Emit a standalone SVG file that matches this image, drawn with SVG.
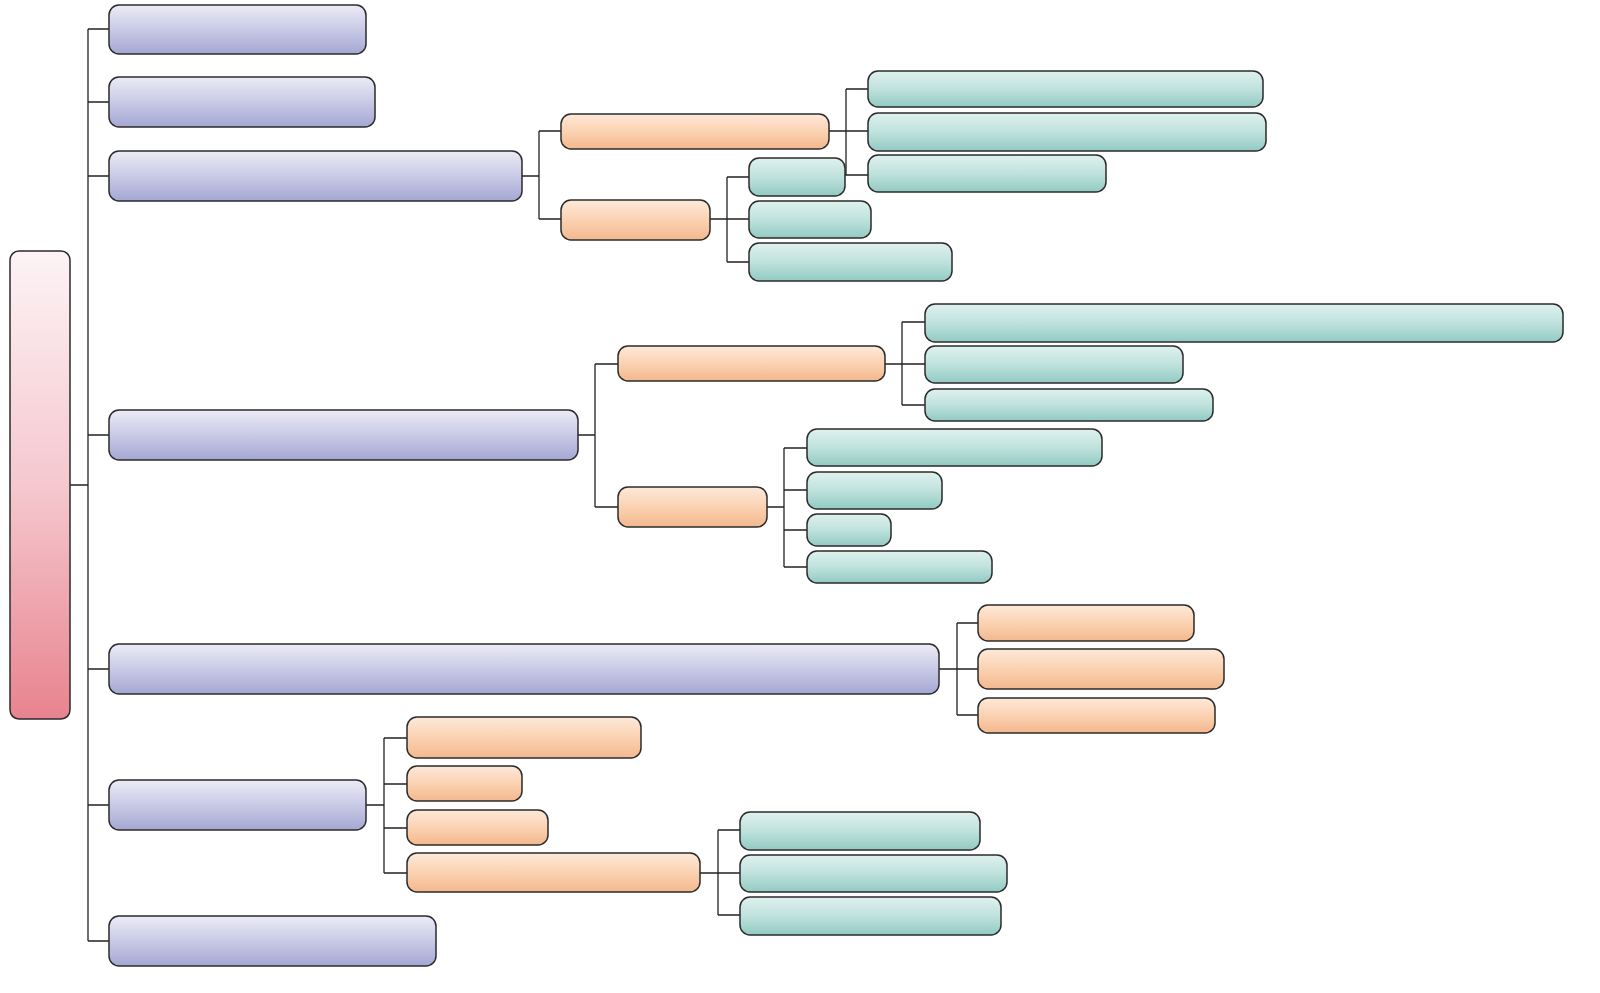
<svg xmlns="http://www.w3.org/2000/svg" width="1600" height="993" viewBox="0 0 1600 993">
<defs>
<linearGradient id="gp" x1="0" y1="0" x2="0" y2="1"><stop offset="0" stop-color="#ecebf6"/><stop offset="0.5" stop-color="#c9cae6"/><stop offset="1" stop-color="#a4a7d3"/></linearGradient>
<linearGradient id="go" x1="0" y1="0" x2="0" y2="1"><stop offset="0" stop-color="#fde9d9"/><stop offset="0.5" stop-color="#fbd2b2"/><stop offset="1" stop-color="#f3b88d"/></linearGradient>
<linearGradient id="gt" x1="0" y1="0" x2="0" y2="1"><stop offset="0" stop-color="#dff1ee"/><stop offset="0.5" stop-color="#bfe2dd"/><stop offset="1" stop-color="#92cac3"/></linearGradient>
<linearGradient id="gr" x1="0" y1="0" x2="0" y2="1"><stop offset="0" stop-color="#fdf3f5"/><stop offset="0.5" stop-color="#f5c8cf"/><stop offset="1" stop-color="#e8838e"/></linearGradient>
</defs>
<style>
rect{stroke:#2b2b2b;stroke-width:1.5}
.p{fill:url(#gp)}.o{fill:url(#go)}.t{fill:url(#gt)}.r{fill:url(#gr)}
#connectors path{fill:none;stroke:#222;stroke-width:1.3}
</style>
<rect width="1600" height="993" fill="#fff" style="stroke:none"/>
<g id="connectors">
<path d="M70 485H88M88 29V941M88 29H109M88 102H109M88 176H109M88 435H109M88 669H109M88 805H109M88 941H109"/>
<path d="M522 176H539M539 131V219M539 131H561M539 219H561"/>
<path d="M829 131H846M846 89V175M846 89H868M846 131H868M845 175H868"/>
<path d="M710 219H727M727 177V262M727 177H749M727 219H749M727 262H749"/>
<path d="M578 435H595M595 364V507M595 364H618M595 507H618"/>
<path d="M885 364H902M902 322V405M902 322H925M902 364H925M902 405H925"/>
<path d="M767 507H784M784 448V567M784 448H807M784 490H807M784 530H807M784 567H807"/>
<path d="M939 669H957M957 623V715M957 623H978M957 669H978M957 715H978"/>
<path d="M366 805H384M384 738V873M384 738H407M384 784H407M384 828H407M384 873H407"/>
<path d="M700 873H718M718 830V915M718 830H740M718 873H740M718 915H740"/>
</g>
<g id="root"><rect class="r" x="10" y="251" width="60" height="468" rx="9"/></g>
<g id="n1"><rect class="p" x="109" y="5" width="257" height="49" rx="10"/></g>
<g id="n2"><rect class="p" x="109" y="77" width="266" height="50" rx="10"/></g>
<g id="n3"><rect class="p" x="109" y="151" width="413" height="50" rx="10"/></g>
<g id="n4"><rect class="p" x="109" y="410" width="469" height="50" rx="10"/></g>
<g id="n5"><rect class="p" x="109" y="644" width="830" height="50" rx="10"/></g>
<g id="n6"><rect class="p" x="109" y="780" width="257" height="50" rx="10"/></g>
<g id="n7"><rect class="p" x="109" y="916" width="327" height="50" rx="10"/></g>
<g id="n3a"><rect class="o" x="561" y="114" width="268" height="35" rx="10"/></g>
<g id="n3b"><rect class="o" x="561" y="200" width="149" height="40" rx="10"/></g>
<g id="n3a1"><rect class="t" x="868" y="71" width="395" height="36" rx="10"/></g>
<g id="n3a2"><rect class="t" x="868" y="113" width="398" height="38" rx="10"/></g>
<g id="n3a3"><rect class="t" x="868" y="155" width="238" height="37" rx="10"/></g>
<g id="n3b1"><rect class="t" x="749" y="158" width="96" height="38" rx="10"/></g>
<g id="n3b2"><rect class="t" x="749" y="201" width="122" height="37" rx="10"/></g>
<g id="n3b3"><rect class="t" x="749" y="243" width="203" height="38" rx="10"/></g>
<g id="n4a"><rect class="o" x="618" y="346" width="267" height="35" rx="10"/></g>
<g id="n4b"><rect class="o" x="618" y="487" width="149" height="40" rx="10"/></g>
<g id="n4a1"><rect class="t" x="925" y="304" width="638" height="38" rx="10"/></g>
<g id="n4a2"><rect class="t" x="925" y="346" width="258" height="37" rx="10"/></g>
<g id="n4a3"><rect class="t" x="925" y="389" width="288" height="32" rx="10"/></g>
<g id="n4b1"><rect class="t" x="807" y="429" width="295" height="37" rx="10"/></g>
<g id="n4b2"><rect class="t" x="807" y="472" width="135" height="37" rx="10"/></g>
<g id="n4b3"><rect class="t" x="807" y="514" width="84" height="32" rx="10"/></g>
<g id="n4b4"><rect class="t" x="807" y="551" width="185" height="32" rx="10"/></g>
<g id="n5a"><rect class="o" x="978" y="605" width="216" height="36" rx="10"/></g>
<g id="n5b"><rect class="o" x="978" y="649" width="246" height="40" rx="10"/></g>
<g id="n5c"><rect class="o" x="978" y="698" width="237" height="35" rx="10"/></g>
<g id="n6a"><rect class="o" x="407" y="717" width="234" height="41" rx="10"/></g>
<g id="n6b"><rect class="o" x="407" y="766" width="115" height="35" rx="10"/></g>
<g id="n6c"><rect class="o" x="407" y="810" width="141" height="35" rx="10"/></g>
<g id="n6d"><rect class="o" x="407" y="853" width="293" height="39" rx="10"/></g>
<g id="n6d1"><rect class="t" x="740" y="812" width="240" height="38" rx="10"/></g>
<g id="n6d2"><rect class="t" x="740" y="855" width="267" height="37" rx="10"/></g>
<g id="n6d3"><rect class="t" x="740" y="897" width="261" height="38" rx="10"/></g>
</svg>
